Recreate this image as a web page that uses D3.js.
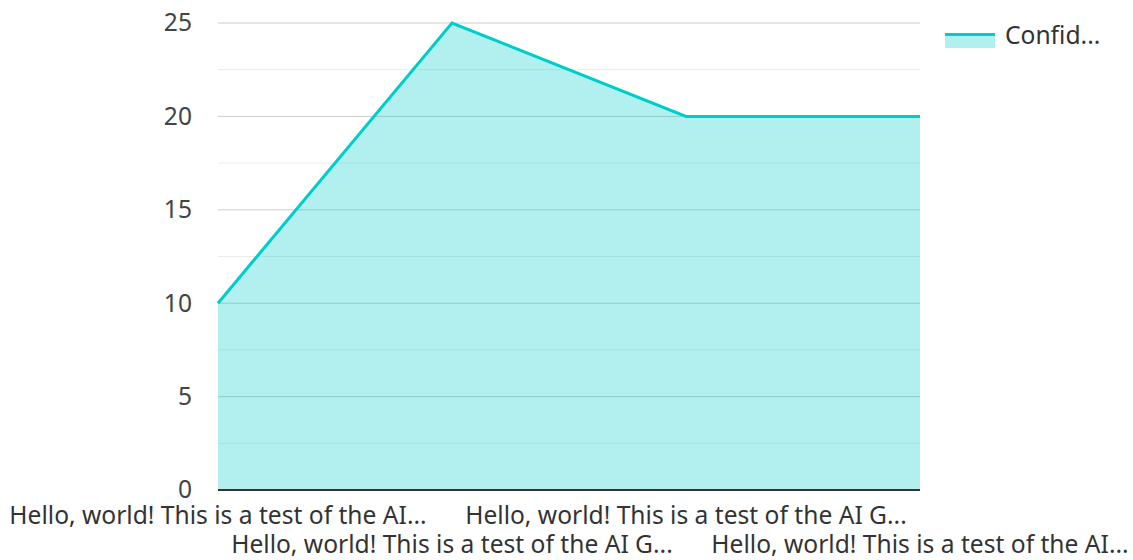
<!DOCTYPE html>
<html><head><meta charset="utf-8">
<script src="https://cdn.jsdelivr.net/npm/d3@7"></script>
<style>body{margin:0;background:#fff;}svg{display:block;font-family:"Noto Sans","Open Sans",sans-serif;}</style>
</head><body>
<svg id="c" width="1133" height="560"></svg>
<script>
const categories = [
  "Hello, world! This is a test of the AI...",
  "Hello, world! This is a test of the AI G...",
  "Hello, world! This is a test of the AI G...",
  "Hello, world! This is a test of the AI..."
];
const values = [10, 25, 20, 20];
const seriesName = "Confid...";
const majorTicks = [0, 5, 10, 15, 20, 25];
const minorTicks = [2.5, 7.5, 12.5, 17.5, 22.5];

(function () {
const svg = d3.select("#c");
const mLeft = 218, mRight = 920, mTop = 23, mBottom = 490;
const fs = 24.6;
const x = d3.scalePoint().domain(d3.range(categories.length)).range([mLeft, mRight]);
const y = d3.scaleLinear().domain([0, 25]).range([mBottom, mTop]);
const lineColor = "#00cccc";

// minor grid
svg.append("g").selectAll("line").data(minorTicks).join("line")
  .attr("x1", mLeft).attr("x2", mRight).attr("y1", d => y(d)).attr("y2", d => y(d))
  .attr("stroke", "#ebebeb").attr("stroke-width", 1);
// major grid
svg.append("g").selectAll("line").data(majorTicks.filter(d => d > 0)).join("line")
  .attr("x1", mLeft).attr("x2", mRight).attr("y1", d => y(d)).attr("y2", d => y(d))
  .attr("stroke", "#cccccc").attr("stroke-width", 1);

// area
const area = d3.area().x((d, i) => x(i)).y0(y(0)).y1(d => y(d));
svg.append("path").datum(values).attr("d", area).attr("fill", lineColor).attr("fill-opacity", 0.3);
const line = d3.line().x((d, i) => x(i)).y(d => y(d));
svg.append("path").datum(values).attr("d", line).attr("fill", "none")
  .attr("stroke", lineColor).attr("stroke-width", 3).attr("stroke-linejoin", "miter");

// baseline
svg.append("line").attr("x1", mLeft).attr("x2", mRight).attr("y1", y(0)).attr("y2", y(0))
  .attr("stroke", "#333").attr("stroke-width", 2);

// y labels
const yAxis = d3.axisLeft(y).tickValues(majorTicks).tickSize(0).tickPadding(26);
const ya = svg.append("g").attr("transform", `translate(${mLeft},0)`).call(yAxis);
ya.select(".domain").remove();
ya.attr("font-size", null).attr("font-family", null);
ya.selectAll("text").attr("font-size", fs).attr("fill", "#444");

// x labels staggered
svg.append("g").selectAll("text").data(categories).join("text")
  .attr("x", (d, i) => x(i)).attr("y", (d, i) => i % 2 === 0 ? 524 : 553)
  .attr("text-anchor", "middle").attr("font-size", fs).attr("fill", "#333")
  .text(d => d);

// legend
const lg = svg.append("g").attr("transform", "translate(945,33)");
lg.append("rect").attr("x", 0).attr("y", 0).attr("width", 50).attr("height", 15)
  .attr("fill", lineColor).attr("fill-opacity", 0.3);
lg.append("line").attr("x1", 0).attr("x2", 50).attr("y1", 1.5).attr("y2", 1.5)
  .attr("stroke", lineColor).attr("stroke-width", 3);
lg.append("text").attr("x", 60).attr("y", 11).attr("font-size", fs).attr("fill", "#333").text(seriesName);
})();
</script>
</body></html>
